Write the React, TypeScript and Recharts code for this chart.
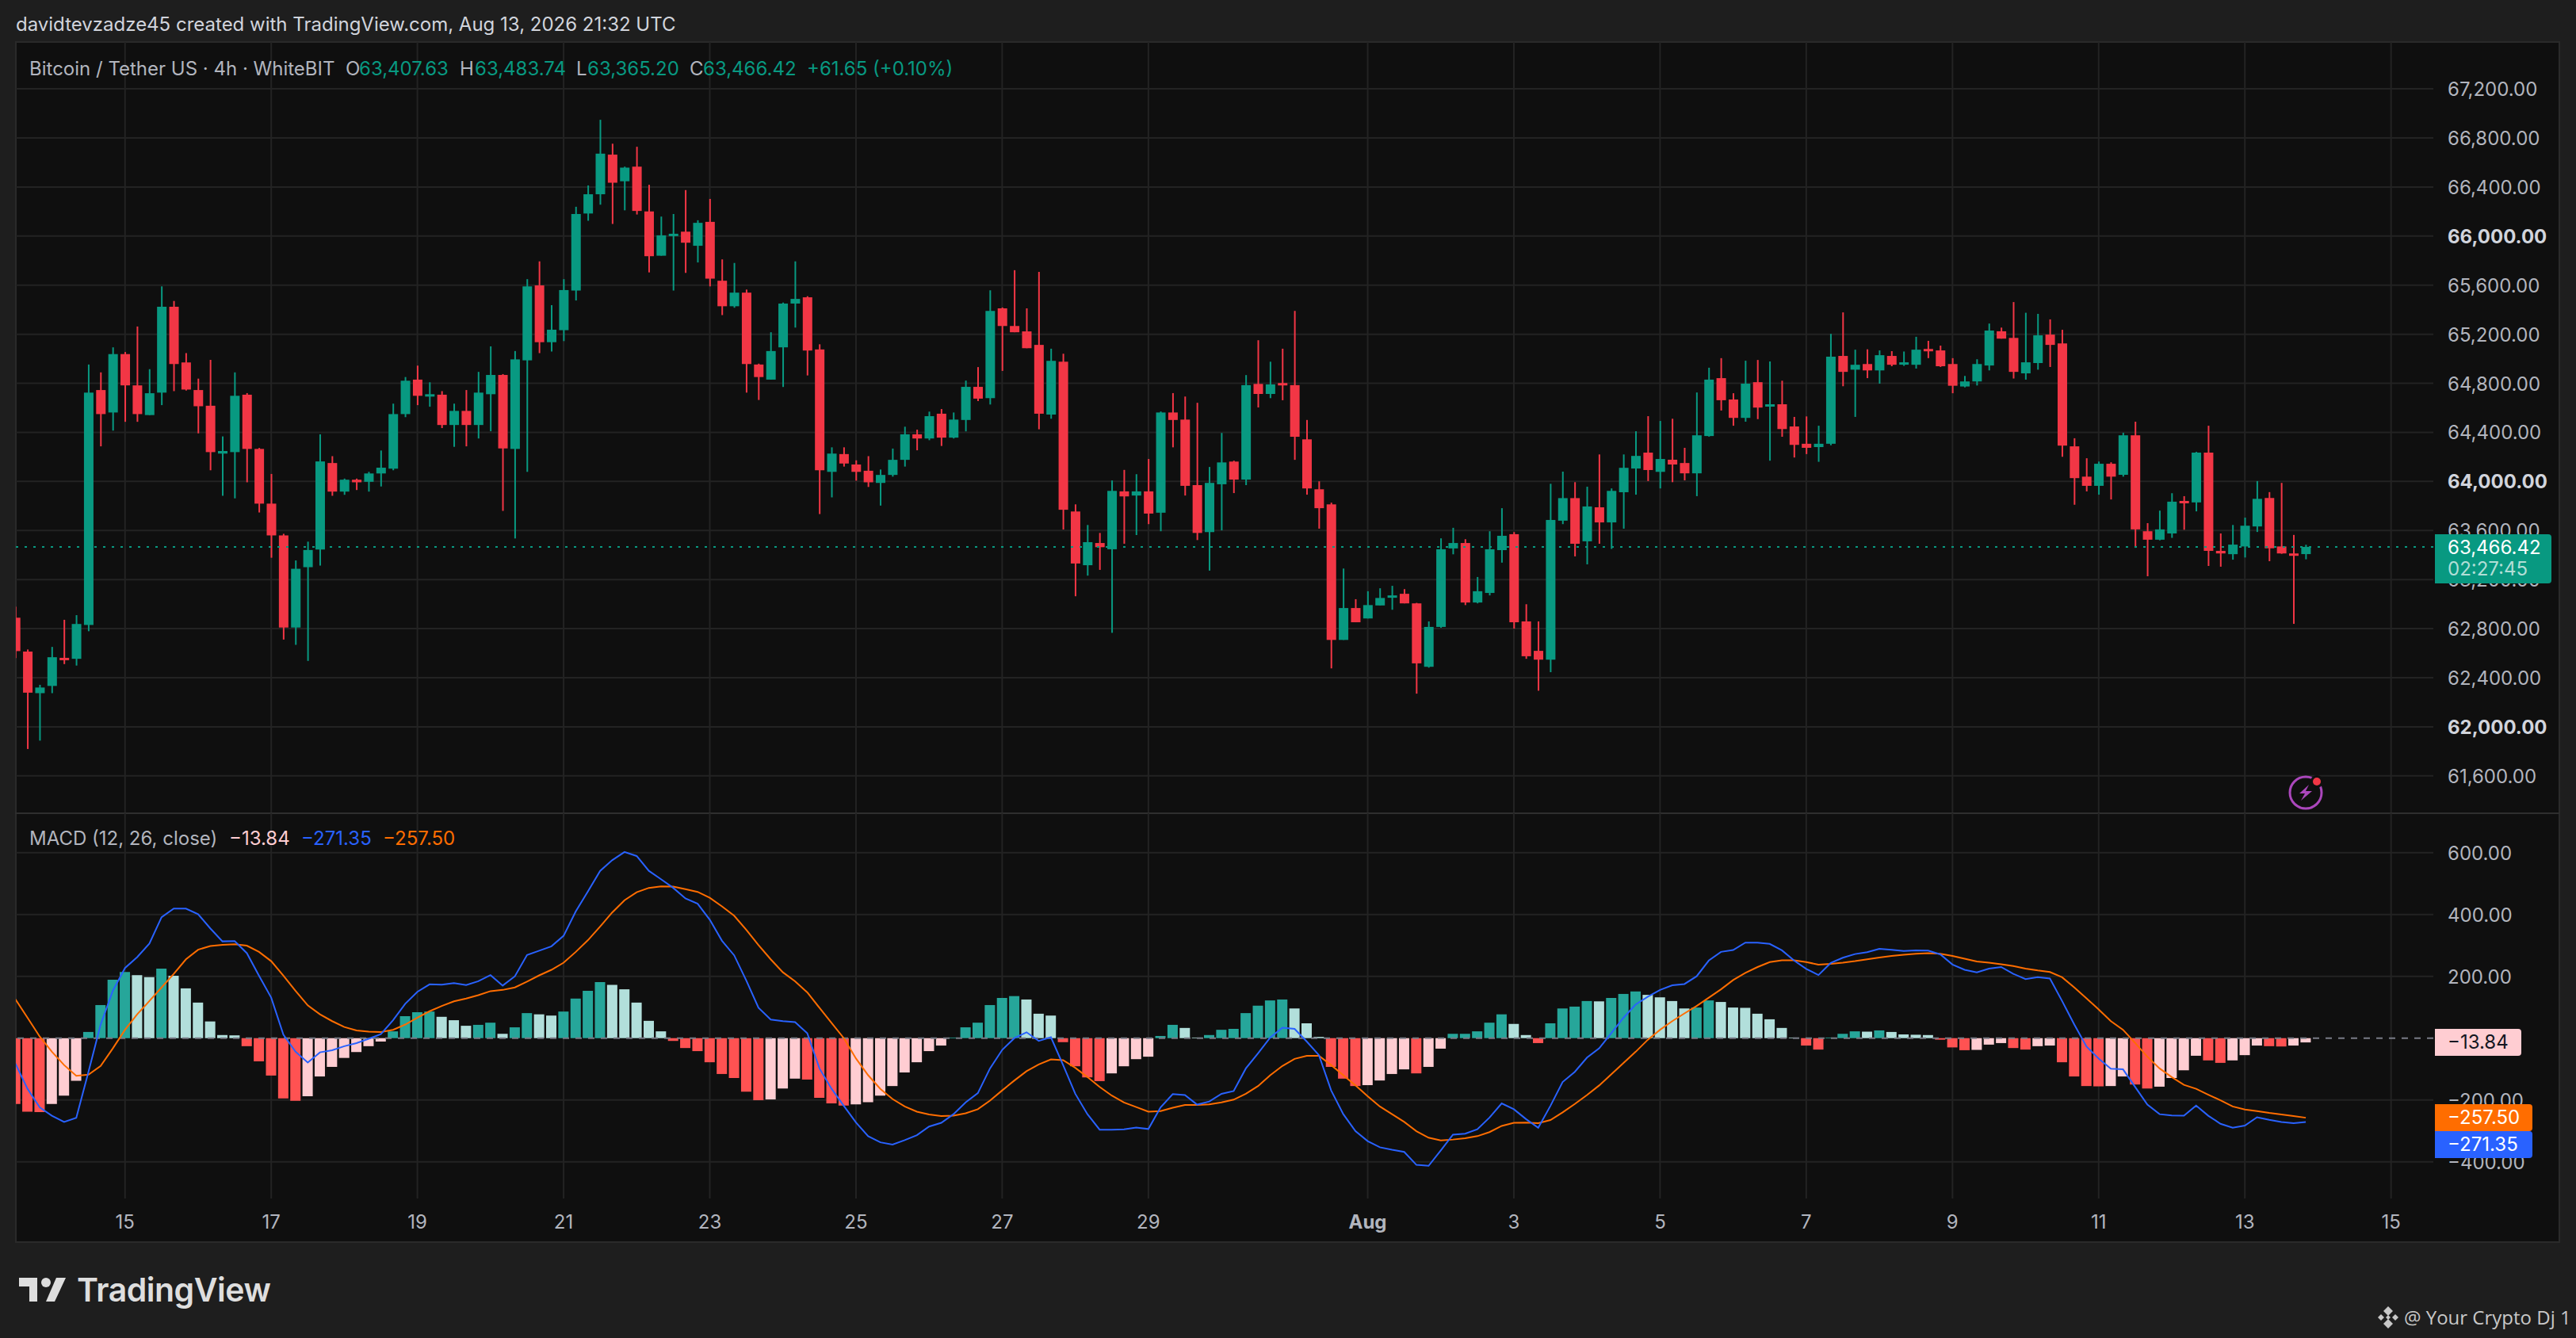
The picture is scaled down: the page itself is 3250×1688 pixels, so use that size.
// BTC/USDT 4h candles with a MACD pane, TradingView dark look.
import { ComposedChart, Bar, Line, Cell, XAxis, YAxis, CartesianGrid, ReferenceLine } from "recharts";

const FONT = "Inter, sans-serif";
const UP = "#089981";
const DOWN = "#f23645";
const GRID = "#232323";
const AXIS_TEXT = "#b2b5be";

// open, high, low, close for every 4h candle
const ohlc = [
  [62889,62979,62560,62617],[62613,62630,61819,62278],[62274,62342,61887,62320],[62333,62651,62274,62567],[62562,62872,62511,62550],
  [62554,62910,62499,62838],[62830,64953,62779,64724],[64745,64889,64286,64549],[64562,65093,64414,65038],[65038,65055,64486,64783],
  [64783,65263,64486,64549],[64541,64915,64541,64719],[64724,65590,64622,65424],[65424,65471,64736,64957],[64970,65046,64741,64749],
  [64745,64838,64392,64613],[64617,64991,64091,64239],[64227,64367,63883,64248],[64239,64889,63862,64698],[64707,64720,63993,64265],
  [64265,64273,63747,63819],[63819,64061,63378,63560],[63560,63573,62711,62809],[62809,63356,62668,63288],[63301,63509,62537,63441],
  [63445,64384,63314,64163],[64150,64206,63883,63917],[63917,64023,63891,64014],[64014,64023,63930,63993],[63997,64078,63917,64065],
  [64065,64252,63959,64112],[64104,64634,64091,64549],[64549,64851,64524,64821],[64830,64944,64622,64698],[64698,64808,64609,64711],
  [64707,64736,64435,64460],[64460,64634,64282,64575],[64575,64745,64286,64460],[64460,64893,64350,64724],[64711,65101,64409,64868],
  [64868,64875,63760,64269],[64265,65063,63535,64995],[64987,65649,64078,65590],[65598,65794,65046,65135],[65135,65437,65059,65237],
  [65233,65649,65144,65560],[65556,66239,65475,66180],[66184,66413,66125,66341],[66341,66948,66256,66672],[66664,66753,66099,66435],
  [66447,66566,66210,66558],[66566,66728,66176,66205],[66201,66418,65704,65836],[65840,66159,65840,66006],[66010,66180,65556,66019],
  [66036,66375,65700,65946],[65921,66129,65785,66108],[66116,66303,65590,65653],[65636,65810,65356,65428],[65428,65781,65416,65539],
  [65539,65564,64724,64957],[64953,64960,64664,64851],[64830,65216,64830,65063],[65093,65458,64770,65450],[65450,65794,65254,65488],
  [65501,65510,64864,65067],[65076,65118,63734,64091],[64078,64278,63870,64227],[64223,64278,64121,64146],[64138,64172,64006,64078],
  [64087,64206,63955,63993],[63988,64097,63803,64053],[64053,64268,64039,64176],[64176,64446,64121,64384],[64384,64422,64254,64350],
  [64350,64569,64336,64532],[64552,64590,64289,64357],[64357,64562,64350,64504],[64501,64822,64408,64771],[64771,64932,64655,64675],
  [64679,65558,64627,65390],[65411,65418,64901,65267],[65267,65722,65216,65216],[65223,65411,65086,65086],[65113,65708,64425,64552],
  [64545,65082,64511,64983],[64976,65041,63608,63769],[63755,63813,63064,63331],[63317,63645,63232,63505],[63498,63580,63279,63464],
  [63447,64008,62766,63923],[63919,64094,63492,63878],[63885,64059,63563,63919],[63919,64183,63652,63738],[63745,64570,63594,64562],
  [64562,64720,64278,64501],[64504,64692,63885,63964],[63970,64641,63522,63580],[63587,64118,63273,63988],[63977,64395,63601,64155],
  [64162,64169,63905,64015],[64015,64867,63970,64785],[64795,65151,64603,64713],[64713,64976,64679,64791],[64802,65082,64662,64791],
  [64785,65390,64176,64364],[64343,64501,63892,63943],[63936,64001,63615,63782],[63813,63827,62476,62708],[62708,63290,62708,62968],
  [62968,63040,62852,62852],[62883,63105,62883,62992],[62989,63129,62989,63050],[63057,63149,62954,63071],[63084,63122,63006,63006],
  [63006,63010,62270,62517],[62489,62859,62482,62814],[62814,63536,62807,63447],[63454,63622,63406,63498],[63498,63529,62992,63013],
  [63013,63221,63006,63105],[63091,63594,63071,63447],[63440,63782,63338,63557],[63570,63587,62800,62852],[62859,62999,62554,62575],
  [62619,62859,62294,62547],[62547,63981,62445,63686],[63680,64080,63652,63864],[63864,63994,63389,63492],[63512,63957,63324,63796],
  [63789,64220,63492,63666],[63666,63943,63450,63923],[63912,64220,63615,64111],[64105,64409,63892,64208],[64235,64532,64003,64093],
  [64078,64493,63943,64183],[64177,64511,63994,64138],[64150,64274,64009,64066],[64066,64725,63880,64376],[64370,64927,64365,64830],
  [64842,65005,64578,64662],[64668,64719,64454,64518],[64518,64984,64487,64797],[64809,64990,64508,64602],[64617,64978,64169,64629],
  [64629,64821,64364,64427],[64448,64526,64195,64298],[64307,64530,64223,64274],[64280,64454,64160,64307],[64307,65203,64295,65017],
  [65023,65378,64776,64893],[64911,65074,64526,64951],[64957,65077,64842,64905],[64905,65068,64797,65029],[65023,65062,64939,64951],
  [64957,65059,64942,64971],[64951,65179,64920,65074],[65080,65146,65005,65071],[65068,65107,64933,64939],[64957,65005,64719,64780],
  [64774,64860,64767,64815],[64815,64996,64782,64957],[64945,65287,64905,65230],[65224,65254,65164,65164],[65170,65462,64839,64893],
  [64881,65375,64830,64971],[64965,65366,64911,65191],[65197,65321,64933,65113],[65125,65236,64201,64292],[64286,64352,63810,64027],
  [64039,64189,63919,63964],[63964,64162,63892,64144],[64144,64156,63853,64039],[64054,64397,64039,64376],[64376,64487,63459,63609],
  [63594,63660,63227,63525],[63525,63762,63520,63609],[63576,63904,63540,63835],[63841,63880,63606,63829],[63829,64241,63756,64235],
  [64235,64454,63311,63434],[63434,63576,63305,63413],[63407,63645,63362,63485],[63470,63705,63380,63639],[63633,64003,63588,63858],
  [63865,63913,63350,63455],[63470,63988,63410,63413],[63413,63564,62839,63395],[63407.63,63483.74,63365.2,63466.42],
];

const macdLine = [
  -82,-164,-224,-251,-271,-258,-109,44,153,227,262,306,391,419,419,401,355,313,314,275,
  202,131,11,-44,-79,-46,-39,-26,-16,-2,13,58,111,150,174,173,178,172,184,204,
  170,200,269,283,297,331,410,475,541,576,602,589,541,514,486,452,435,383,315,268,
  186,98,60,55,52,16,-98,-164,-219,-273,-317,-337,-344,-330,-314,-286,-274,-246,-208,-178,
  -98,-38,0,19,-9,3,-87,-180,-246,-296,-296,-295,-289,-294,-224,-181,-184,-215,-205,-180,
  -171,-98,-49,2,34,30,-11,-55,-169,-246,-301,-333,-353,-361,-368,-410,-413,-363,-312,-309,
  -295,-257,-211,-230,-262,-290,-219,-142,-109,-63,-33,16,66,109,134,156,171,175,200,251,
  279,285,309,309,305,284,251,224,204,243,260,272,278,289,286,282,284,283,271,238,
  221,213,225,230,208,191,197,193,120,44,-27,-66,-99,-101,-158,-215,-246,-250,-251,-218,
  -251,-277,-290,-283,-256,-264,-271,-275,-271.35,
];

const signalLine = [
  126,66,5,-44,-87,-122,-118,-90,-33,27,77,120,164,208,255,286,298,302,304,299,
  279,249,202,153,106,77,55,36,25,21,20,27,44,66,87,104,119,128,139,152,
  156,164,183,203,221,244,279,317,361,407,446,472,486,491,490,482,473,454,426,396,
  350,301,255,213,184,148,98,49,0,-66,-120,-164,-197,-221,-238,-247,-252,-251,-243,-230,
  -202,-169,-137,-107,-85,-69,-71,-96,-126,-158,-186,-208,-223,-238,-236,-225,-216,-216,-214,-208,
  -199,-180,-155,-120,-90,-67,-57,-57,-87,-120,-153,-188,-221,-246,-271,-301,-322,-331,-328,-324,
  -317,-304,-284,-274,-273,-275,-265,-240,-213,-184,-153,-117,-80,-44,-5,27,55,80,104,131,
  158,188,211,230,246,252,252,246,238,240,244,249,255,261,266,270,273,275,273,266,
  257,248,244,239,233,225,219,214,197,164,129,93,55,27,-16,-60,-98,-126,-151,-164,
  -183,-201,-221,-231,-236,-242,-247,-252,-257.5,
];

const histogram = [
  -213,-238,-239,-213,-186,-138,20,107,189,214,204,197,225,202,161,115,54,10,9,-26,
  -75,-121,-195,-203,-188,-124,-93,-64,-45,-26,-11,22,71,84,86,69,58,40,43,50,
  14,35,81,77,73,86,128,153,181,172,158,115,56,22,-9,-32,-42,-78,-116,-129,
  -173,-201,-198,-163,-131,-134,-193,-211,-218,-214,-207,-186,-155,-111,-78,-42,-24,2,35,50,
  107,130,136,125,79,73,-13,-91,-127,-139,-114,-91,-68,-60,7,43,33,2,10,27,
  30,81,105,122,125,96,48,4,-93,-131,-155,-152,-137,-116,-101,-114,-93,-34,14,14,
  22,50,77,46,10,-16,48,96,102,120,119,130,143,151,140,132,120,96,99,122,
  117,99,98,79,61,33,2,-24,-37,2,14,22,21,25,20,12,11,10,-5,-30,
  -39,-38,-21,-16,-32,-37,-26,-24,-78,-124,-155,-156,-155,-124,-150,-163,-157,-129,-104,-57,
  -72,-80,-72,-55,-24,-26,-27,-24,-13.84,
];

const dateTicks = [9, 21, 33, 45, 57, 69, 81, 93, 111, 123, 135, 147, 159, 171, 183, 195];
const dateLabels = ["15", "17", "19", "21", "23", "25", "27", "29", "Aug", "3", "5", "7", "9", "11", "13", "15"];
const priceTicks = [61600, 62000, 62400, 62800, 63200, 63600, 64000, 64400, 64800, 65200, 65600, 66000, 66400, 66800, 67200];
const macdTicks = [-400, -200, 200, 400, 600];
const lastPrice = 63466.42;

const xDomain = [0.04, 198.47];
const priceDomain = [61295, 67582];
const macdDomain = [-518.7, 727.4];

const priceData = ohlc.map((c, i) => ({ i, open: c[0], high: c[1], low: c[2], close: c[3] }));
const macdData = histogram.map((hist, i) => ({ i, hist, macd: macdLine[i], signal: signalLine[i] }));

function histColor(i: number) {
  const v = histogram[i];
  const prev = i > 0 ? histogram[i - 1] : v;
  if (v >= 0) return v >= prev ? "#26a69a" : "#b2dfdb";
  return v <= prev ? "#ff5252" : "#ffcdd2";
}

const fmt = (v: number) =>
  (v < 0 ? "\u2212" : "") +
  Math.abs(v).toLocaleString("en-US", { minimumFractionDigits: 2, maximumFractionDigits: 2 });

// Bar gives the low-high range in pixels, the body is placed inside it by ratio.
function Candle(props: any) {
  const { x, y, width, height, payload } = props;
  const { open, high, low, close } = payload;
  const color = close >= open ? UP : DOWN;
  const pxPerUnit = Math.abs(height) / (high - low || 1);
  const top = y + (high - Math.max(open, close)) * pxPerUnit;
  const bodyH = Math.max(Math.abs(open - close) * pxPerUnit, 3);
  const cx = x + width / 2;
  return (
    <g>
      <rect x={cx - 1} y={y} width={2} height={Math.abs(height)} fill={color} />
      <rect x={x} y={top} width={width} height={bodyH} fill={color} />
    </g>
  );
}

function PriceTick({ x, y, payload }: any) {
  const bold = payload.value % 2000 === 0;
  return (
    <text x={x} y={y} dy={9} fontFamily={FONT} fontSize={24} fontWeight={bold ? 700 : 400} fill={bold ? "#d1d4dc" : AXIS_TEXT}>
      {fmt(payload.value)}
    </text>
  );
}

function DateTick({ x, y, payload }: any) {
  const label = dateLabels[dateTicks.indexOf(payload.value)];
  return (
    <text x={x} y={y} dy={9} textAnchor="middle" fontFamily={FONT} fontSize={24} fontWeight={label === "Aug" ? 700 : 400} fill={AXIS_TEXT}>
      {label}
    </text>
  );
}

function Txt({ x, y, color, size = 24, weight = 400, family = FONT, spacing = 0, children }: any) {
  return (
    <div
      style={{
        position: "absolute",
        left: x,
        top: y,
        transform: "translateY(-50%)",
        fontFamily: family,
        fontSize: size,
        fontWeight: weight,
        letterSpacing: spacing,
        color,
        whiteSpace: "nowrap",
        lineHeight: 1.2,
      }}
    >
      {children}
    </div>
  );
}

function Tag({ top, height, width, bg, color, children }: any) {
  return (
    <div
      style={{
        position: "absolute",
        left: 3072,
        top,
        width,
        height,
        background: bg,
        color,
        borderRadius: "0 4px 4px 0",
        fontFamily: FONT,
        fontSize: 24,
        lineHeight: `${height}px`,
        paddingLeft: 16,
        boxSizing: "border-box",
      }}
    >
      {children}
    </div>
  );
}

export default function App() {
  return (
    <div style={{ position: "absolute", left: 0, top: 0, width: 3250, height: 1688, background: "#1e1e1e", overflow: "hidden" }}>
      <Txt x={20} y={31} color="#d1d4dc">davidtevzadze45 created with TradingView.com, Aug 13, 2026 21:32 UTC</Txt>

      {/* panes */}
      <div style={{ position: "absolute", left: 19, top: 52, width: 3211, height: 1516, background: "#0f0f0f", border: "2px solid #2a2a2a", boxSizing: "border-box" }} />

      <div style={{ position: "absolute", left: 20, top: 53 }}>
        <ComposedChart width={3209} height={973} data={priceData} margin={{ top: 0, right: 0, bottom: 0, left: 0 }}>
          <CartesianGrid stroke={GRID} strokeWidth={2} horizontalValues={priceTicks} verticalValues={dateTicks} />
          <XAxis dataKey="i" type="number" domain={xDomain} ticks={dateTicks} allowDataOverflow hide />
          <YAxis
            orientation="right"
            width={159}
            domain={priceDomain}
            ticks={priceTicks}
            allowDataOverflow
            interval={0}
            axisLine={false}
            tickLine={false}
            tickSize={0}
            tickMargin={18}
            tick={PriceTick}
          />
          <ReferenceLine y={lastPrice} stroke={UP} strokeWidth={2} strokeDasharray="3 8" />
          <Bar dataKey={(d: any) => [d.low, d.high]} barSize={12} shape={Candle} isAnimationActive={false} />
        </ComposedChart>
      </div>

      <div style={{ position: "absolute", left: 19, top: 1025, width: 3211, height: 2, background: "#2e2e2e" }} />

      <div style={{ position: "absolute", left: 20, top: 1026 }}>
        <ComposedChart width={3209} height={541} data={macdData} margin={{ top: 0, right: 0, bottom: 0, left: 0 }}>
          <CartesianGrid stroke={GRID} strokeWidth={2} horizontalValues={macdTicks} verticalValues={dateTicks} />
          <XAxis
            dataKey="i"
            type="number"
            domain={xDomain}
            ticks={dateTicks}
            allowDataOverflow
            interval={0}
            height={55}
            axisLine={false}
            tickLine={false}
            tickSize={0}
            tickMargin={29}
            tick={DateTick}
          />
          <YAxis
            orientation="right"
            width={159}
            domain={macdDomain}
            ticks={macdTicks}
            allowDataOverflow
            interval={0}
            axisLine={false}
            tickLine={false}
            tickSize={0}
            tickMargin={18}
            tick={PriceTick}
          />
          <Bar dataKey="hist" barSize={13} isAnimationActive={false}>
            {macdData.map((d) => (
              <Cell key={d.i} fill={histColor(d.i)} />
            ))}
          </Bar>
          <ReferenceLine y={0} stroke="#787b86" strokeWidth={2} strokeDasharray="8 8" />
          <Line dataKey="signal" type="linear" stroke="#ff6d00" strokeWidth={2} dot={false} isAnimationActive={false} />
          <Line dataKey="macd" type="linear" stroke="#2962ff" strokeWidth={2} dot={false} isAnimationActive={false} />
        </ComposedChart>
      </div>

      {/* price legend */}
      <Txt x={37} y={87} color="#b2b5be">Bitcoin / Tether US · 4h · WhiteBIT</Txt>
      <Txt x={436} y={87} color="#b2b5be">O</Txt>
      <Txt x={453} y={87} color={UP}>63,407.63</Txt>
      <Txt x={580} y={87} color="#b2b5be">H</Txt>
      <Txt x={599} y={87} color={UP}>63,483.74</Txt>
      <Txt x={727} y={87} color="#b2b5be">L</Txt>
      <Txt x={741} y={87} color={UP}>63,365.20</Txt>
      <Txt x={870} y={87} color="#b2b5be">C</Txt>
      <Txt x={887} y={87} color={UP}>63,466.42</Txt>
      <Txt x={1018} y={87} color={UP}>+61.65 (+0.10%)</Txt>

      {/* MACD legend */}
      <Txt x={37} y={1058} color="#b2b5be">MACD (12, 26, close)</Txt>
      <Txt x={289} y={1058} color="#ffcdd2">{"\u221213.84"}</Txt>
      <Txt x={380} y={1058} color="#2962ff">{"\u2212271.35"}</Txt>
      <Txt x={483} y={1058} color="#ff6d00">{"\u2212257.50"}</Txt>

      {/* last value tags */}
      <div style={{ position: "absolute", left: 3072, top: 674, width: 147, height: 62, background: UP, borderRadius: "0 4px 4px 0" }} />
      <Txt x={3088} y={691} color="#ffffff">63,466.42</Txt>
      <Txt x={3088} y={718} color="#ffffffb0">02:27:45</Txt>
      <Tag top={1298} height={34} width={109} bg="#ffcdd2" color="#131722">{"\u221213.84"}</Tag>
      <Tag top={1393} height={34} width={123} bg="#ff6d00" color="#ffffff">{"\u2212257.50"}</Tag>
      <Tag top={1427} height={34} width={123} bg="#2962ff" color="#ffffff">{"\u2212271.35"}</Tag>

      {/* lightning badge */}
      <svg style={{ position: "absolute", left: 2880, top: 970 }} width={60} height={60}>
        <circle cx={29} cy={30} r={20} fill="none" stroke="#ab47bc" strokeWidth={3} />
        <polygon points="33,20 21,31 28,31 23,40 37,28 29,28" fill="#ab47bc" />
        <circle cx={43} cy={16} r={8} fill="#0f0f0f" />
        <circle cx={43} cy={16} r={5} fill="#f23645" />
      </svg>

      {/* footer */}
      <svg style={{ position: "absolute", left: 24, top: 1612 }} width={60} height={30}>
        <polygon points="0,0 23,0 23,30 13,30 13,11 0,11" fill="#dedede" />
        <circle cx={34} cy={6} r={6} fill="#dedede" />
        <polygon points="47,0 59,0 45,30 34,30" fill="#dedede" />
      </svg>
      <Txt x={97} y={1628} color="#dedede" size={41} weight={600} spacing={-0.5}>TradingView</Txt>
      <svg style={{ position: "absolute", left: 2998, top: 1647 }} width={30} height={30}>
        <polygon points="15,1 21,7 15,13 9,7" fill="#c8c8c8" />
        <polygon points="15,17 21,23 15,29 9,23" fill="#c8c8c8" />
        <polygon points="6,11 10,15 6,19 2,15" fill="#c8c8c8" />
        <polygon points="24,11 28,15 24,19 20,15" fill="#c8c8c8" />
        <polygon points="15,12 18,15 15,18 12,15" fill="#c8c8c8" />
      </svg>
      <Txt x={3033} y={1662} color="#c8c8c8" size={24} family="'Open Sans', sans-serif">@ Your Crypto Dj 1</Txt>
    </div>
  );
}
